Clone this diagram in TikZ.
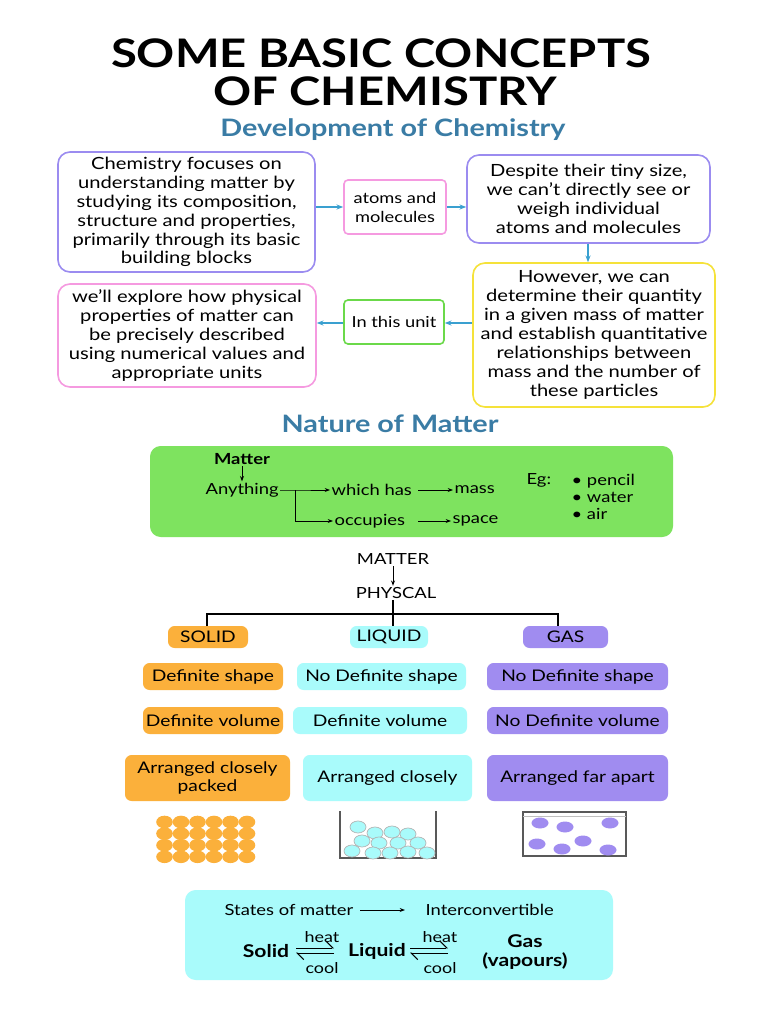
\documentclass[tikz,border=0pt]{standalone}
\usepackage{fontspec}
\setmainfont{Lato}[FakeStretch=1.2]
\usetikzlibrary{arrows.meta}
\definecolor{hblue}{HTML}{3A7CA5}
\definecolor{bpurple}{HTML}{9B8CF0}
\definecolor{bpink}{HTML}{F59AE0}
\definecolor{byellow}{HTML}{F5E23A}
\definecolor{bgreen}{HTML}{6BD94A}
\definecolor{acyan}{HTML}{3AA0D0}
\definecolor{gfill}{HTML}{7EE35F}
\definecolor{sorange}{HTML}{FBB03B}
\definecolor{lcyan}{HTML}{A9FBFB}
\definecolor{gpurple}{HTML}{A08CF0}
\tikzset{
  tb/.style={draw,line width=1.2pt,rounded corners=9pt,align=center,font=\fontsize{12.6}{14.2}\selectfont,inner sep=0pt},
  ca/.style={-{Stealth[length=5pt]},acyan,line width=0.8pt},
  ka/.style={-{Stealth[length=4pt]},line width=0.7pt},
  fb/.style={rounded corners=5pt,align=center,font=\fontsize{12}{14}\selectfont,inner sep=0pt},
  tx/.style={font=\fontsize{11.5}{13}\selectfont,inner sep=1pt},
  bx/.style={font=\fontsize{13.2}{14.5}\selectfont\bfseries,inner sep=1pt,align=center},
  sm/.style={font=\fontsize{11.2}{12}\selectfont},
}
\begin{document}
\begin{tikzpicture}[x=0.75pt,y=-0.75pt]
\useasboundingbox (0,0) rectangle (768,1024);
\fill[white] (0,0) rectangle (768,1024);
\node[font=\fontsize{29.5}{34}\selectfont\bfseries] (t1) at (381,53) {SOME BASIC CONCEPTS};
\node[font=\fontsize{29.5}{34}\selectfont\bfseries] (t2) at (385,91) {OF CHEMISTRY};
\node[font=\fontsize{18}{20}\selectfont\bfseries,hblue] (h1) at (393,130) {Development of Chemistry};
% top boxes
\node[tb,bpurple,text=black,minimum width=257*0.75pt,minimum height=120*0.75pt] (b1) at (186.5,212) {Chemistry focuses on\\understanding matter by\\studying its composition,\\structure and  properties,\\primarily through its basic\\building blocks};
\node[tb,bpink,text=black,rounded corners=3pt,minimum width=102*0.75pt,minimum height=54*0.75pt,font=\fontsize{11.4}{14.2}\selectfont] (b2) at (395,207) {atoms and\\molecules};
\node[tb,bpurple,text=black,minimum width=243*0.75pt,minimum height=88*0.75pt] (b3) at (588.5,199) {Despite their tiny size,\\we can't directly see or\\weigh individual\\atoms and molecules};
\node[tb,byellow,text=black,minimum width=242*0.75pt,minimum height=144*0.75pt] (b4) at (594,335) {However, we can\\determine their quantity\\in a given mass of matter\\and establish quantitative\\relationships between\\mass and the number of\\these particles};
\node[tb,bgreen,text=black,rounded corners=3pt,minimum width=100*0.75pt,minimum height=44*0.75pt,font=\fontsize{11.4}{14.2}\selectfont] (b5) at (394,322) {In this unit};
\node[tb,bpink,text=black,minimum width=258*0.75pt,minimum height=103*0.75pt] (b6) at (187,335.5) {we'll explore how physical\\properties of matter can\\be precisely described\\using numerical values and\\appropriate units};
\draw[ca] (b1.east|-0,207) -- (b2.west|-0,207);
\draw[ca] (b2.east|-0,207) -- (b3.west|-0,207);
\draw[ca] (b3.south-|588,0) -- (b4.north-|588,0);
\draw[ca] (b4.west|-0,323) -- (b5.east|-0,323);
\draw[ca] (b5.west|-0,323) -- (b6.east|-0,323);
\node[font=\fontsize{18}{20}\selectfont\bfseries,hblue] (h2) at (390,424) {Nature of Matter};
% green box
\fill[gfill,rounded corners=8pt] (150,446) rectangle (673,537);
\node[tx,font=\fontsize{11.5}{13}\selectfont\bfseries] (mat) at (242,459) {Matter};
\node[tx,anchor=west] (any) at (204,490) {Anything};
\draw[ka] (mat) -- (any.north-|mat);
\node[tx,anchor=west] (wh) at (330,490) {which has};
\node[tx,anchor=west] (oc) at (333,521) {occupies};
\node[tx,anchor=west] (ms) at (453,490) {mass};
\node[tx,anchor=west] (sp) at (451,521) {space};
\coordinate (br) at (295,490);
\draw[ka] (any.east) -- (br) -- (wh.west);
\draw[ka] (br) -- (295,521) -- (oc.west);
\draw[ka] (418,490) -- (ms.west);
\draw[ka] (418,521) -- (sp.west);
\node[tx,anchor=west] (eg) at (525,480) {Eg:};
\node[tx,anchor=west,align=left,font=\fontsize{11.5}{12.8}\selectfont] (egl) at (570,497) {\textbullet\ pencil\\\textbullet\ water\\\textbullet\ air};
% tree
\node[tx] (M) at (393,559) {MATTER};
\node[tx] (P) at (396,593) {PHYSCAL};
\draw[ka] (M) -- (P.north-|M);
\node[fb,fill=sorange,minimum width=80*0.75pt,minimum height=22*0.75pt] (s1) at (208,637) {SOLID};
\node[fb,fill=lcyan,minimum width=78*0.75pt,minimum height=22*0.75pt] (l1) at (389,637) {LIQUID};
\node[fb,fill=gpurple,minimum width=85*0.75pt,minimum height=22*0.75pt] (g1) at (565.5,637) {GAS};
\draw[line width=0.8pt] (P.south-|393,0) -- (393,614);
\draw[line width=0.8pt] (207,626) -- (207,614) -- (558,614) -- (558,626);
\draw[line width=0.8pt] (393,614) -- (393,626);
\node[fb,fill=sorange,minimum width=140*0.75pt,minimum height=27*0.75pt] (s2) at (213,676.5) {Definite shape};
\node[fb,fill=lcyan,minimum width=169*0.75pt,minimum height=27*0.75pt] (l2) at (381.5,676.5) {No Definite shape};
\node[fb,fill=gpurple,minimum width=181*0.75pt,minimum height=27*0.75pt] (g2) at (577.5,676.5) {No Definite shape};
\node[fb,fill=sorange,minimum width=140*0.75pt,minimum height=27*0.75pt] (s3) at (213,720.5) {Definite volume};
\node[fb,fill=lcyan,minimum width=174*0.75pt,minimum height=27*0.75pt] (l3) at (380,720.5) {Definite volume};
\node[fb,fill=gpurple,minimum width=181*0.75pt,minimum height=27*0.75pt] (g3) at (577.5,720.5) {No Definite volume};
\node[fb,fill=sorange,minimum width=165*0.75pt,minimum height=46*0.75pt] (s4) at (207.5,778) {Arranged closely\\packed};
\node[fb,fill=lcyan,minimum width=169*0.75pt,minimum height=46*0.75pt] (l4) at (387.5,778) {Arranged closely};
\node[fb,fill=gpurple,minimum width=181*0.75pt,minimum height=46*0.75pt] (g4) at (577.5,778) {Arranged far apart};
% particles
\foreach \i in {0,...,5}{\foreach \j in {0,...,3}{
  \fill[sorange] (164.5+16.5*\i,822+11.6*\j) ellipse [x radius=8.3pt*0.75,y radius=6.3pt*0.75];}}
\draw[gray!70!black,line width=1pt] (340,811) -- (340,858) -- (436,858) -- (436,811);
\foreach \p in {(358,827),(375,833),(392,832),(408,834),(362,841),(379,843),(398,843),(418,843),(352,851),(373,853),(390,853),(408,852),(427,853)}
  \filldraw[fill=lcyan,draw=gray!60,line width=0.5pt] \p ellipse [x radius=8pt*0.75,y radius=6pt*0.75];
\draw[gray!70!black,line width=1pt] (523,812) rectangle (626,856);
\draw[gray!50,line width=0.5pt] (523,816) -- (626,816);
\foreach \p in {(540,823),(565,827),(610,823),(537,844),(562,849),(583,841),(608,850)}
  \fill[gpurple] \p ellipse [x radius=8.5pt*0.75,y radius=5.5pt*0.75];
% bottom box
\fill[lcyan,rounded corners=8pt] (185,890) rectangle (613,980);
\node[tx,anchor=west] (st) at (223,910) {States of matter};
\node[tx,anchor=west] (ic) at (424,910) {Interconvertible};
\draw[ka] (360,910) -- (405,910);
\node[bx] (so) at (266,951) {Solid};
\node[bx] (li) at (377,951) {Liquid};
\node[bx] (ga) at (525,952) {Gas\\(vapours)};
\draw[-{Straight Barb[left,length=5pt]},line width=0.7pt] (296,948) -- (334,948);
\draw[-{Straight Barb[left,length=5pt]},line width=0.7pt] (334,953) -- (296,953);
\draw[-{Straight Barb[left,length=5pt]},line width=0.7pt] (410,948) -- (448,948);
\draw[-{Straight Barb[left,length=5pt]},line width=0.7pt] (448,953) -- (410,953);
\node[sm] (h1a) at (322,937) {heat};
\node[sm] (c1a) at (322,968) {cool};
\node[sm] (h2a) at (440,937) {heat};
\node[sm] (c2a) at (440,968) {cool};
\end{tikzpicture}
\end{document}
